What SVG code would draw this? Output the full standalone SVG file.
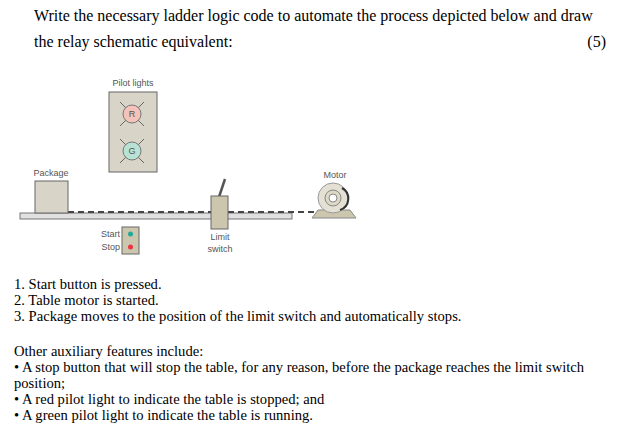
<svg xmlns="http://www.w3.org/2000/svg" width="642" height="432" viewBox="0 0 642 432">
<style>
.t{font-family:"Liberation Serif",serif;font-size:14.6px;fill:#000}
.h{font-family:"Liberation Serif",serif;font-size:16px;fill:#000}
.s{font-family:"Liberation Sans",sans-serif;font-size:9px;fill:#555}
.g{fill:#d8d4c8;stroke:#666;stroke-width:1}
</style>
<rect width="642" height="432" fill="#fff"/>
<text class="h" x="34" y="21">Write the necessary ladder logic code to automate the process depicted below and draw</text>
<text class="h" x="34" y="47">the relay schematic equivalent:</text>
<text class="h" x="606" y="47" text-anchor="end">(5)</text>
<g id="pilot">
<text class="s" x="133" y="86" text-anchor="middle">Pilot lights</text>
<rect class="g" x="109" y="92" width="48" height="80" fill="#e4e1d9"/>
<g stroke="#666" stroke-width="1"><line x1="120" y1="102" x2="144" y2="126"/><line x1="144" y1="102" x2="120" y2="126"/><line x1="120" y1="139" x2="144" y2="163"/><line x1="144" y1="139" x2="120" y2="163"/></g>
<circle cx="132" cy="114" r="9" fill="#f4c2b8" stroke="#777"/>
<text class="s" x="132" y="117" text-anchor="middle" font-size="7">R</text>
<circle cx="132" cy="151" r="9" fill="#b8e2d4" stroke="#777"/>
<text class="s" x="132" y="154" text-anchor="middle" font-size="7">G</text>
</g>
<g id="table"><rect x="20" y="213" width="272" height="6" fill="#e0e0e0" stroke="#777"/></g>
<g id="connectors"><line x1="68" y1="212" x2="330" y2="212" stroke="#444" stroke-width="2" stroke-dasharray="6,4"/></g>
<g id="package">
<text class="s" x="51" y="176" text-anchor="middle">Package</text>
<rect class="g" x="35" y="181" width="33" height="32"/>
</g>
<g id="limit">
<line x1="219" y1="197" x2="225" y2="179" stroke="#555" stroke-width="2.5"/>
<rect x="211" y="196" width="17" height="33" fill="#ccc6ae" stroke="#666"/>
<text class="s" x="220" y="240" text-anchor="middle">Limit</text>
<text class="s" x="220" y="252" text-anchor="middle">switch</text>
</g>
<g id="motor">
<text class="s" x="335" y="178" text-anchor="middle">Motor</text>
<path d="M318 210 L350 210 L356 218 L312 218 Z" fill="#ccc6ae" stroke="#888"/>
<circle cx="333" cy="198" r="15" fill="#e4e1d4" stroke="#999"/>
<circle cx="333" cy="198" r="8" fill="#ddd8c4" stroke="#888"/>
<circle cx="333" cy="198" r="4" fill="#fff" stroke="#888"/>
<path d="M342 188 A12 12 0 0 1 340 210" fill="none" stroke="#333" stroke-width="2"/>
</g>
<g id="startstop">
<rect x="122" y="227" width="17" height="27" fill="#ccc6ae" stroke="#666"/>
<circle cx="130.5" cy="234" r="2.5" fill="#2a9"/>
<circle cx="130.5" cy="247" r="2.5" fill="#e34"/>
<text class="s" x="120" y="237" text-anchor="end">Start</text>
<text class="s" x="120" y="250" text-anchor="end">Stop</text>
</g>
<text class="t" x="14" y="289">1. Start button is pressed.</text>
<text class="t" x="14" y="305">2. Table motor is started.</text>
<text class="t" x="14" y="321">3. Package moves to the position of the limit switch and automatically stops.</text>
<text class="t" x="14" y="356">Other auxiliary features include:</text>
<text class="t" x="14" y="372">• A stop button that will stop the table, for any reason, before the package reaches the limit switch</text>
<text class="t" x="14" y="388">position;</text>
<text class="t" x="14" y="404">• A red pilot light to indicate the table is stopped; and</text>
<text class="t" x="14" y="420">• A green pilot light to indicate the table is running.</text>
</svg>
